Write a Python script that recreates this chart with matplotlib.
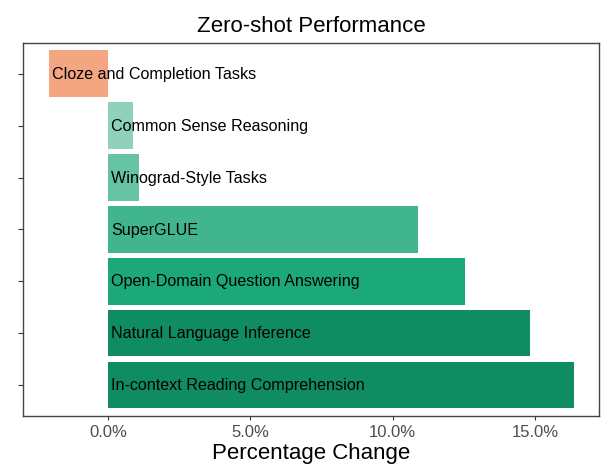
import matplotlib
matplotlib.use("Agg")
from matplotlib import pyplot as plt
from matplotlib.ticker import FuncFormatter

plt.rcParams['font.family'] = ['Liberation Sans', 'DejaVu Sans']

# bottom to top
tasks = [
    "In-context Reading Comprehension",
    "Natural Language Inference",
    "Open-Domain Question Answering",
    "SuperGLUE",
    "Winograd-Style Tasks",
    "Common Sense Reasoning",
    "Cloze and Completion Tasks",
]
change = [16.39, 14.84, 12.55, 10.88, 1.08, 0.87, -2.08]
colors = ["#0f8c62", "#0f8c62", "#1ba97a", "#41b68e", "#66c3a5", "#8fd1b9", "#f4a582"]

fig = plt.figure(figsize=(6.16, 4.7), dpi=100)
ax = fig.add_axes([0.0378, 0.1149, 0.9338, 0.7942])

ypos = list(range(len(tasks)))
ax.barh(ypos, change, height=0.9, color=colors)

for y, name, v in zip(ypos, tasks, change):
    ax.annotate(name, xy=(min(v, 0), y), xytext=(2, -0.5), textcoords="offset points",
                ha="left", va="center", fontsize=11.6, color="black")

ax.set_xlim(-2.99, 17.24)
ax.set_ylim(-0.6, 6.6)
ax.set_yticks(ypos)
ax.set_yticklabels([])
ax.set_xticks([0, 5, 10, 15])
ax.xaxis.set_major_formatter(FuncFormatter(lambda x, p: "%.1f%%" % x))
ax.tick_params(axis="x", length=3, width=0.8, color="#333333", labelsize=12,
               labelcolor="#4d4d4d", pad=3.5)
ax.tick_params(axis="y", length=3.3, width=0.8, color="#333333")
for s in ax.spines.values():
    s.set_color("#444444")
    s.set_linewidth(1.0)

ax.set_title("Zero-shot Performance", fontsize=16, pad=8)
ax.set_xlabel("Percentage Change", fontsize=16, labelpad=2)

fig.savefig("out.png", dpi=100)
